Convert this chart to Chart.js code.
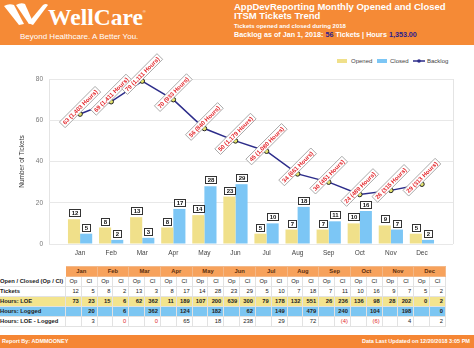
<!DOCTYPE html>
<html>
<head>
<meta charset="utf-8">
<script src="https://cdn.jsdelivr.net/npm/chart.js@4.4.1/dist/chart.umd.min.js"></script>
<style>
body{margin:0;width:474px;height:348px;overflow:hidden;background:#fff;position:relative;font-family:"Liberation Sans",Arial,sans-serif}
#hdr{position:absolute;left:0;top:0;width:474px;height:45px;background:#f58a36;color:#fff}
#logo{position:absolute;left:0;top:0}
#brand{position:absolute;left:48px;top:3px;font:bold 23.5px "Liberation Serif","Times New Roman",serif;line-height:28px;letter-spacing:0}
#brand sup{font:4px Arial;vertical-align:top;position:relative;top:6px}
#tag{position:absolute;left:20px;top:32px;font:8px "Liberation Sans",Arial;line-height:10px;white-space:nowrap}
.t{position:absolute;left:234px;white-space:nowrap;font-weight:bold}
#t1{top:1px;font-size:9.5px;line-height:12px}
#t2{top:10px;font-size:9.5px;line-height:12px}
#t3{top:22px;font-size:6px;line-height:8px}
#t4{top:30px;font-size:7.2px;line-height:9px}
#t4 b{color:#2b1d8e}
#chart{position:absolute;left:0;top:45px}
.lg{position:absolute;font-size:6px;color:#444;line-height:8px;top:57px;white-space:nowrap}
.sw{position:absolute;top:59px;width:10px;height:4px}
#tbl{position:absolute;left:-2px;top:266px;border-collapse:collapse;table-layout:fixed;width:447px}
#tbl td{height:9px;line-height:9px;padding:0 2px 0 0;font-size:5.8px;text-align:right;color:#222;border:1px solid #e2e2e2;overflow:hidden;white-space:nowrap}
#tbl td.lb{text-align:left;font-weight:bold;padding-left:1px}
#tbl td.c{text-align:center;padding:0}
#tbl tr.hd td{background:#f7a25c;font-weight:bold;text-align:center;color:#5a2e0e;border-color:#f3b888;padding:0}
#tbl tr.hd td.blank{background:#fff;border-color:#fff}
#tbl tr.loe td{background:#f3e48e;font-weight:bold}
#tbl tr.lg2 td{background:#7cc6f2;font-weight:bold}
#tbl td.neg{color:#e0262a}
#ftr{position:absolute;left:0;top:335px;width:474px;height:13px;background:#f58634;color:#fff;font-weight:bold;font-size:5.5px;line-height:13px}
#ftr span{position:absolute}
</style>
</head>
<body>
<div id="hdr">
  <svg id="logo" width="50" height="30" viewBox="0 0 50 30">
    <path fill="#fff" d="M4,6 Q9,3 14,5 L24,24 L19,25 Z"/>
    <path fill="#fff" d="M16,5 Q21,2 25,4 L33,22 L29,24 Z"/>
    <path fill="#fff" d="M28,23 L43,5 Q46,3 48,5 L33,25 Z"/>
  </svg>
  <div id="brand">WellCare<sup>®</sup></div>
  <div id="tag">Beyond Healthcare. A Better You.</div>
  <div class="t" id="t1">AppDevReporting Monthly Opened and Closed</div>
  <div class="t" id="t2">ITSM Tickets Trend</div>
  <div class="t" id="t3">Tickets opened and closed during 2018</div>
  <div class="t" id="t4">Backlog as of Jan 1, 2018: <b>56</b> Tickets | Hours <b>1,353.00</b></div>
</div>

<div class="sw" style="left:337px;background:#f0e08a"></div><div class="lg" style="left:351px">Opened</div>
<div class="sw" style="left:377px;background:#7cc6f5"></div><div class="lg" style="left:390px">Closed</div>
<svg style="position:absolute;left:412px;top:58px" width="14" height="6"><line x1="1" y1="3" x2="13" y2="3" stroke="#2c2c8a" stroke-width="1.5"/><circle cx="7" cy="3" r="1.8" fill="#2c2c8a"/></svg>
<div class="lg" style="left:427px">Backlog</div>

<canvas id="chart" width="474" height="217"></canvas>
<div id="tblwrap"></div>
<div id="ftr"><span style="left:2px">Report By: ADMMOONEY</span><span style="left:362px">Data Last Updated on 12/20/2018 3:05 PM</span></div>

<script>
const months = ['Jan', 'Feb', 'Mar', 'Apr', 'May', 'Jun', 'Jul', 'Aug', 'Sep', 'Oct', 'Nov', 'Dec'];
const opened = [12, 8, 13, 8, 14, 23, 5, 7, 7, 10, 9, 5];
const closed = [5, 2, 3, 17, 28, 29, 10, 18, 11, 16, 7, 2];
const backlog = [63, 69, 79, 70, 56, 50, 45, 34, 30, 24, 26, 29];
const backlogHours = ['1,403', '1,411', '1,111', '933', '840', '1,179', '1,080', '661', '451', '489', '315', '313'];
const loeOpened = [73, 15, 62, 11, 107, 639, 79, 132, 26, 136, 28, 0];
const loeClosed = [23, 6, 362, 189, 200, 300, 178, 551, 236, 98, 202, 2];
const hoursLogged = [20, 6, 362, 124, 182, 62, 149, 479, 240, 104, 198, 0];
const loeMinusLogged = [3, 0, 0, 65, 18, 238, 29, 72, -4, -6, 4, 2];
const yTicks = [0, 20, 40, 60, 80];

const FONT = '"Liberation Sans", Arial, sans-serif';

// value boxes over bars, rotated hour tags over backlog points
const tagPlugin = {
    id: 'tags',
    afterDatasetsDraw(chart) {
        const ctx = chart.ctx;
        ctx.save();
        ctx.font = 'bold 6px ' + FONT;
        ctx.textAlign = 'center';
        ctx.textBaseline = 'middle';
        [0, 1].forEach((di) => {
            chart.getDatasetMeta(di).data.forEach((bar, i) => {
                const txt = String(chart.data.datasets[di].data[i].y);
                const w = Math.round(Math.max(ctx.measureText(txt).width + 4, 8));
                const h = 7;
                const left = Math.round(bar.x - w / 2) + 0.5;
                const top = Math.round(bar.y - 3 - h) + 0.5;
                ctx.fillStyle = '#fff';
                ctx.fillRect(left, top, w, h);
                ctx.strokeStyle = '#333';
                ctx.lineWidth = 1;
                ctx.strokeRect(left, top, w, h);
                ctx.fillStyle = '#111';
                ctx.fillText(txt, left + w / 2, top + h / 2 + 0.5);
            });
        });
        chart.getDatasetMeta(2).data.forEach((pt, i) => {
            const txt = backlog[i] + ' (' + backlogHours[i] + ' Hours)';
            const w = ctx.measureText(txt).width + 4;
            const h = 8;
            ctx.save();
            ctx.translate(pt.x, pt.y - 7);
            ctx.rotate(-Math.PI / 4);
            ctx.fillStyle = '#fff';
            ctx.fillRect(-w / 2, -h / 2, w, h);
            ctx.strokeStyle = '#9a9a9a';
            ctx.lineWidth = 0.8;
            ctx.strokeRect(-w / 2, -h / 2, w, h);
            ctx.fillStyle = '#e3262b';
            ctx.fillText(txt, 0, 0.5);
            ctx.restore();
        });
        ctx.restore();
    }
};

new Chart(document.getElementById('chart'), {
    data: {
        datasets: [
            {
                type: 'bar',
                label: 'Opened',
                data: opened.map((v, i) => ({ x: i, y: v })),
                backgroundColor: '#f0e08a',
                categoryPercentage: 0.78,
                barPercentage: 1.0,
                order: 1
            },
            {
                type: 'bar',
                label: 'Closed',
                data: closed.map((v, i) => ({ x: i, y: v })),
                backgroundColor: '#7cc6f5',
                categoryPercentage: 0.78,
                barPercentage: 1.0,
                order: 1
            },
            {
                type: 'line',
                label: 'Backlog',
                data: backlog.map((v, i) => ({ x: i, y: v })),
                borderColor: '#2c2c8a',
                borderWidth: 1.5,
                pointRadius: 2.3,
                pointBackgroundColor: '#e4e46a',
                pointBorderColor: '#222',
                pointBorderWidth: 1,
                tension: 0,
                order: 0
            }
        ]
    },
    options: {
        responsive: false,
        animation: false,
        devicePixelRatio: 1,
        layout: { padding: { top: 34, right: 21, left: 0, bottom: 0 } },
        plugins: { legend: { display: false }, tooltip: { enabled: false } },
        scales: {
            x: {
                type: 'linear',
                min: -1,
                max: 12,
                offset: false,
                border: { display: false },
                grid: {
                    offset: false,
                    drawTicks: false,
                    color: (c) => (c.tick && (c.tick.value === -1 || c.tick.value === 12)) ? '#e4e4e4' : 'rgba(0,0,0,0)'
                },
                ticks: {
                    stepSize: 1,
                    autoSkip: false,
                    maxRotation: 0,
                    padding: 5,
                    color: '#444',
                    font: { size: 6.5, family: FONT },
                    callback: (v) => months[v] || ''
                },
                afterFit: (s) => { s.height = 18; }
            },
            y: {
                min: 0,
                max: 80,
                border: { display: false },
                grid: { drawTicks: false, color: '#e8e8e8' },
                afterBuildTicks: (s) => { s.ticks = yTicks.map((v) => ({ value: v })); },
                ticks: { padding: 6, color: '#777', font: { size: 6.5, family: FONT } },
                title: {
                    display: true,
                    text: 'Number of Tickets',
                    color: '#333',
                    font: { size: 6.5, family: FONT },
                    padding: { top: 18, bottom: 0 }
                },
                afterFit: (s) => { s.width = 49; }
            }
        }
    },
    plugins: [tagPlugin]
});

// summary table under the chart
function fmt(v) { return v < 0 ? '(' + (-v) + ')' : String(v); }
let h = '<table id="tbl"><colgroup><col style="width:67px">' + '<col style="width:15.83px">'.repeat(24) + '</colgroup>';
h += '<tr class="hd"><td class="blank"></td>' + months.map((m) => '<td colspan="2">' + m + '</td>').join('') + '</tr>';
h += '<tr><td class="lb">Open / Closed (Op / Cl)</td>' + months.map(() => '<td class="c">Op</td><td class="c">Cl</td>').join('') + '</tr>';
h += '<tr><td class="lb">Tickets</td>' + months.map((m, i) => '<td>' + opened[i] + '</td><td>' + closed[i] + '</td>').join('') + '</tr>';
h += '<tr class="loe"><td class="lb">Hours: LOE</td>' + months.map((m, i) => '<td>' + loeOpened[i] + '</td><td>' + loeClosed[i] + '</td>').join('') + '</tr>';
h += '<tr class="lg2"><td class="lb">Hours: Logged</td>' + months.map((m, i) => '<td></td><td>' + hoursLogged[i] + '</td>').join('') + '</tr>';
h += '<tr><td class="lb">Hours: LOE - Logged</td>' + months.map((m, i) => '<td></td><td' + (loeMinusLogged[i] <= 0 ? ' class="neg"' : '') + '>' + fmt(loeMinusLogged[i]) + '</td>').join('') + '</tr>';
h += '</table>';
document.getElementById('tblwrap').innerHTML = h;
</script>
</body>
</html>
